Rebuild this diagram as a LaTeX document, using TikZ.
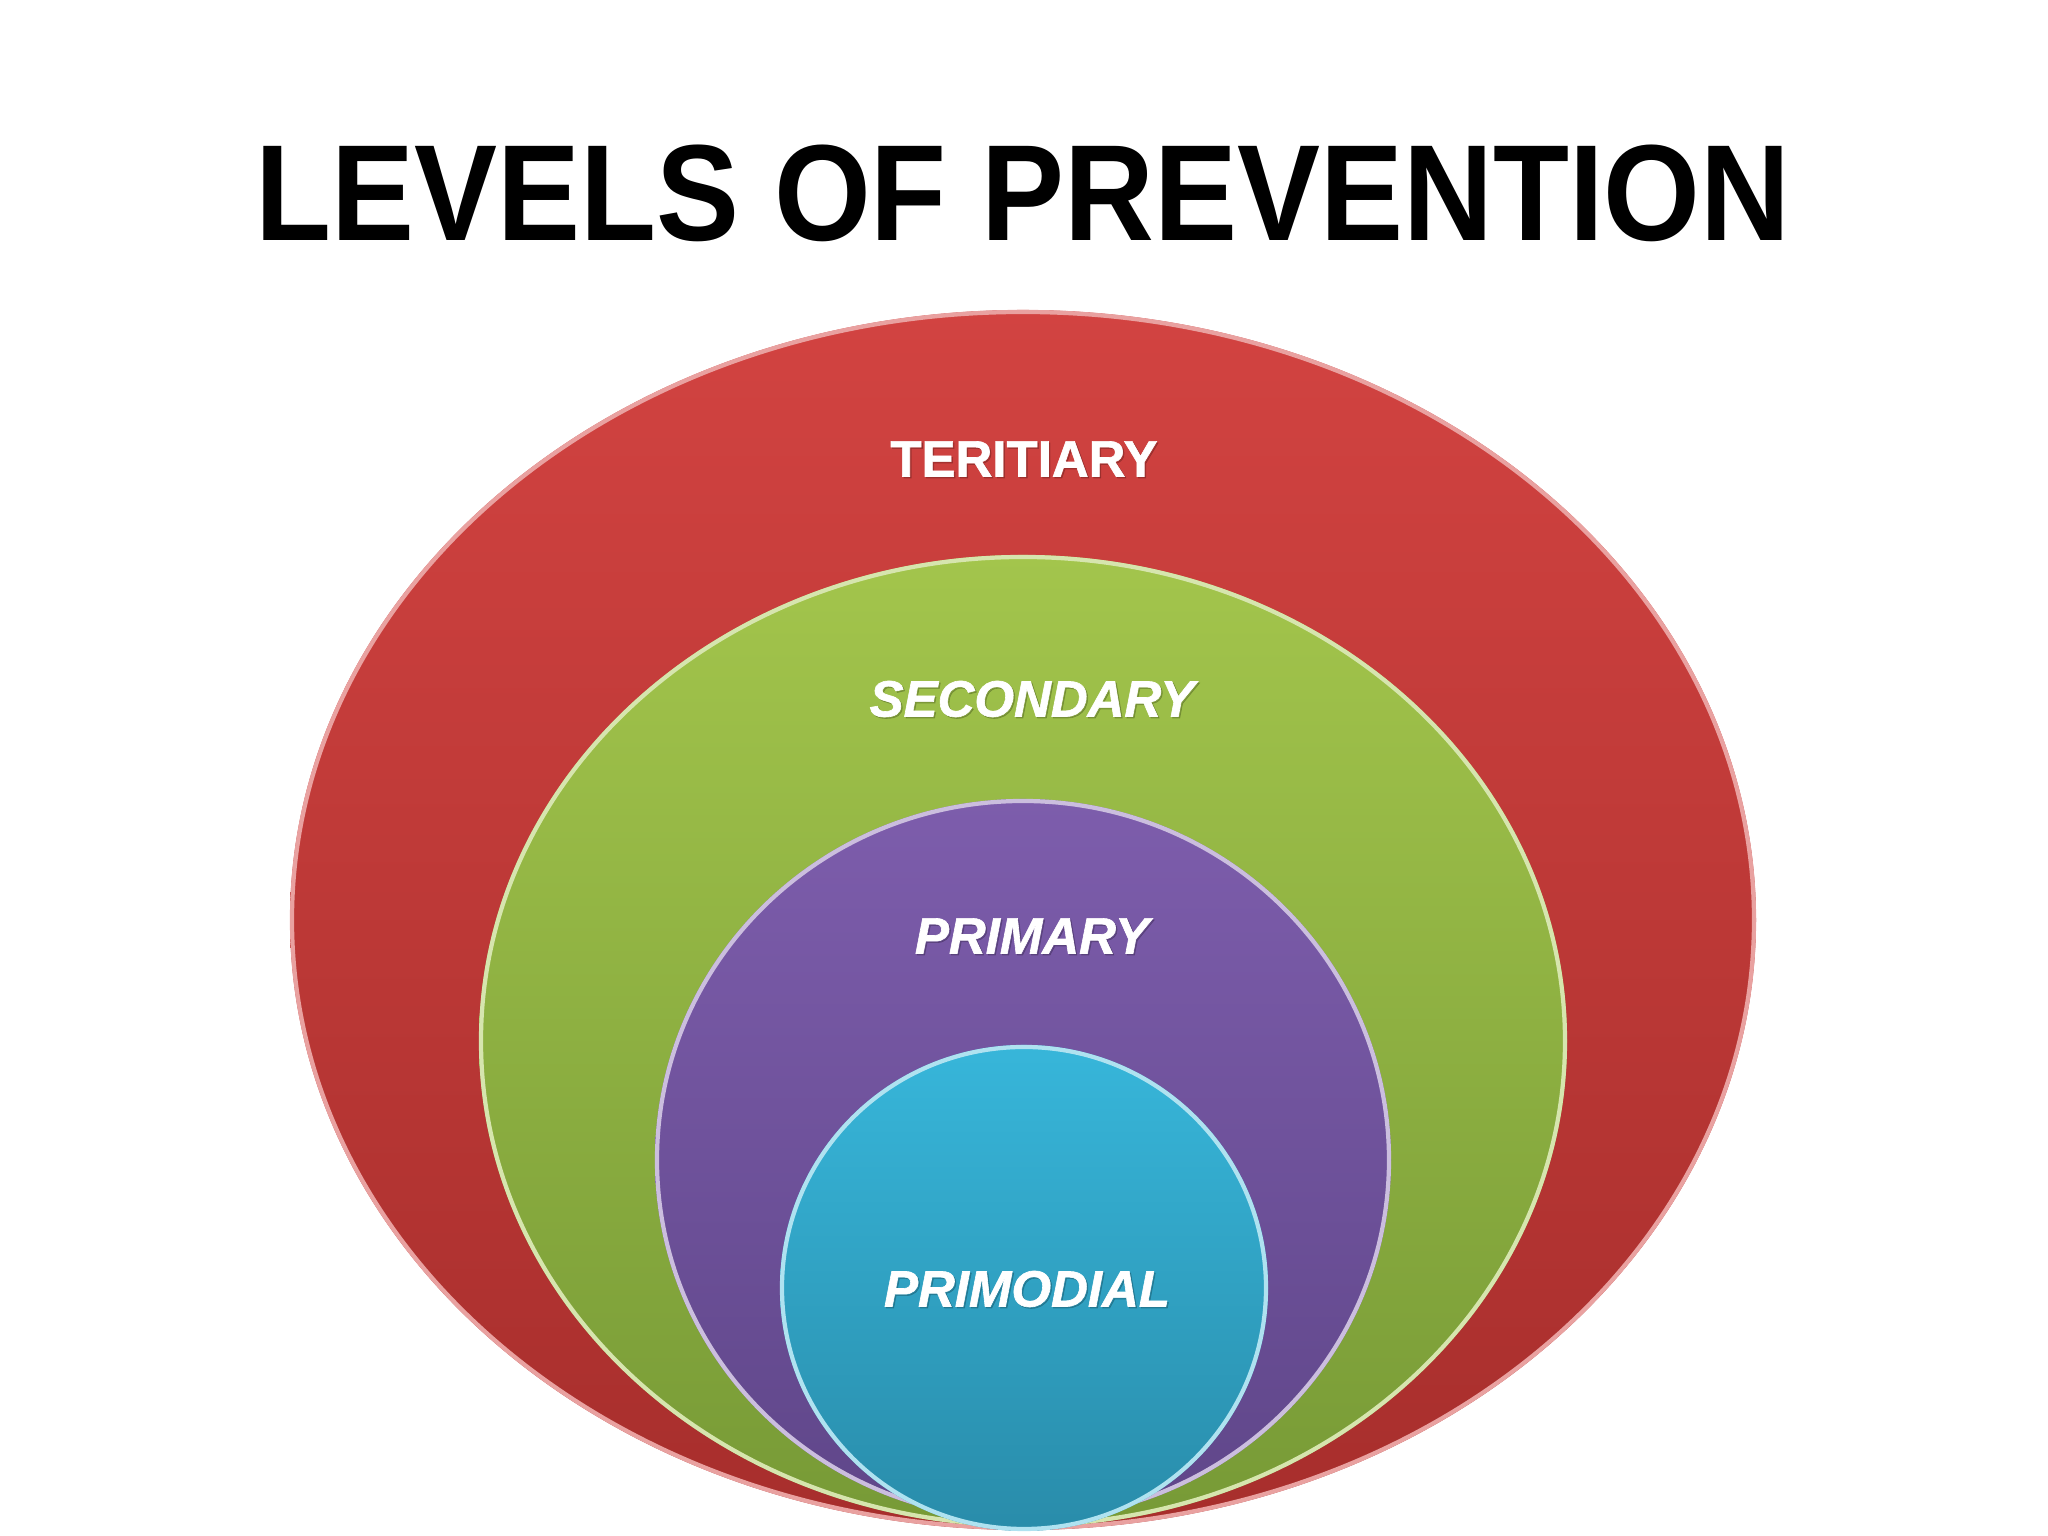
\documentclass[tikz,border=0pt]{standalone}
\usepackage{fontspec}
\setmainfont{Liberation Sans}
\newfontfamily\heavyfont{Liberation Sans}[FakeBold=1.2]
\usepackage{tikz}
\usetikzlibrary{shapes}

\definecolor{redtop}{HTML}{D24341}
\definecolor{redbot}{HTML}{A72E2C}
\definecolor{greentop}{HTML}{A3C54C}
\definecolor{greenbot}{HTML}{779A36}
\definecolor{purpletop}{HTML}{7D5DAC}
\definecolor{purplebot}{HTML}{5F4689}
\definecolor{cyantop}{HTML}{37B6DA}
\definecolor{cyanbot}{HTML}{298CAA}

\tikzset{
  level/.style={font=\fontsize{14.5}{16}\selectfont\heavyfont\bfseries\itshape, text=white},
  levelshadow/.style={font=\fontsize{14.5}{16}\selectfont\heavyfont\bfseries\itshape, text=black, opacity=.18},
}

\begin{document}
\begin{tikzpicture}
\useasboundingbox (0,0) rectangle (20.48,15.36);
%\draw (0,0) grid (20,15);

\node (title) at (10.23,13.43) {\scalebox{1}[1.1]{\fontsize{35.4}{40}\selectfont\bfseries LEVELS OF PREVENTION}};

\shade[top color=redtop, bottom color=redbot] (10.23,6.16) ellipse (7.33 and 6.10);
\draw[redtop!50!white, line width=1.2pt] (10.23,6.16) ellipse (7.31 and 6.08);

\shade[top color=greentop, bottom color=greenbot] (10.23,4.95) ellipse (5.44 and 4.86);
\draw[greentop!45!white, line width=1.2pt] (10.23,4.95) ellipse (5.42 and 4.84);

\shade[top color=purpletop, bottom color=purplebot] (10.23,3.76) ellipse (3.68 and 3.61);
\draw[purpletop!40!white, line width=1.2pt] (10.23,3.76) ellipse (3.66 and 3.59);

\shade[top color=cyantop, bottom color=cyanbot] (10.24,2.48) ellipse (2.44 and 2.43);
\draw[cyantop!40!white, line width=1.2pt] (10.24,2.48) ellipse (2.42 and 2.41);

\node [levelshadow, font=\fontsize{14.5}{16}\selectfont\heavyfont\bfseries] at (10.255,10.755) {TERITIARY};
\node (tertiary) [level, font=\fontsize{14.5}{16}\selectfont\heavyfont\bfseries] at (10.24,10.77) {TERITIARY};

\node [levelshadow] at (10.335,8.355) {SECONDARY};
\node (secondary) [level] at (10.32,8.37) {SECONDARY};

\node [levelshadow] at (10.335,5.985) {PRIMARY};
\node (primary) [level] at (10.32,6.00) {PRIMARY};

\node [levelshadow] at (10.285,2.455) {PRIMODIAL};
\node (primodial) [level] at (10.27,2.47) {PRIMODIAL};
\end{tikzpicture}
\end{document}
